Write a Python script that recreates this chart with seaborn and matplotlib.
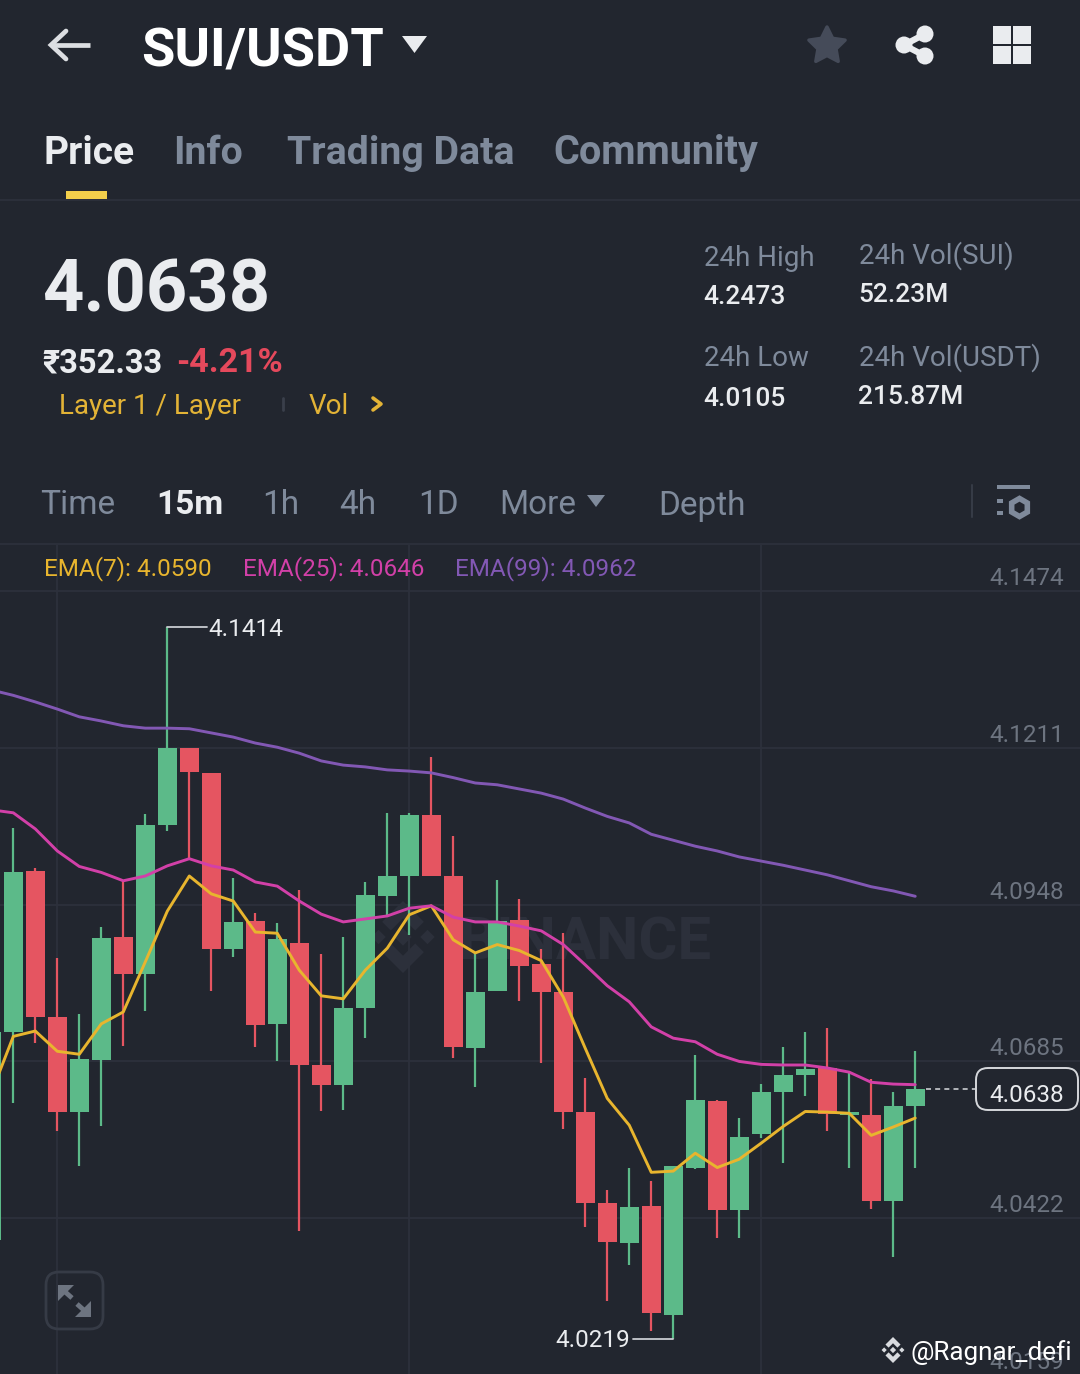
import matplotlib
matplotlib.use("Agg")
import matplotlib.pyplot as plt
import numpy as np
import seaborn as sns
from matplotlib.patches import FancyBboxPatch, Polygon, Rectangle, Circle
from matplotlib.transforms import blended_transform_factory

# candle values (first candle sits mostly off the left edge)
high_prices = [4.0734, 4.1077, 4.1010, 4.0858, 4.0764, 4.0911, 4.0990, 4.1100, 4.1414, 4.1211, 4.1169,
               4.0993, 4.0934, 4.0917, 4.0973, 4.0865, 4.0894, 4.0986, 4.1102, 4.1102, 4.1195, 4.1063,
               4.0867, 4.0990, 4.0958, 4.0874, 4.0900, 4.0657, 4.0470, 4.0507, 4.0484, 4.0509, 4.0695,
               4.0620, 4.0590, 4.0647, 4.0709, 4.0734, 4.0741, 4.0665, 4.0655, 4.0633, 4.0702]
open_prices = [4.0386, 4.0734, 4.1005, 4.0759, 4.0600, 4.0687, 4.0894, 4.0832, 4.1082, 4.1211, 4.1169,
               4.0874, 4.0921, 4.0748, 4.0884, 4.0679, 4.0645, 4.0774, 4.0963, 4.0996, 4.1098, 4.0996,
               4.0707, 4.0803, 4.0922, 4.0848, 4.0801, 4.0600, 4.0448, 4.0380, 4.0443, 4.0260, 4.0507,
               4.0618, 4.0436, 4.0563, 4.0633, 4.0662, 4.0674, 4.0595, 4.0595, 4.0451, 4.0610]
close_prices = [4.0734, 4.1003, 4.0759, 4.0600, 4.0689, 4.0892, 4.0832, 4.1082, 4.1211, 4.1170, 4.0874,
                4.0919, 4.0746, 4.0890, 4.0679, 4.0645, 4.0774, 4.0964, 4.0996, 4.1098, 4.0996, 4.0709,
                4.0801, 4.0921, 4.0845, 4.0801, 4.0600, 4.0448, 4.0382, 4.0441, 4.0263, 4.0509, 4.0620,
                4.0436, 4.0559, 4.0633, 4.0662, 4.0672, 4.0596, 4.0600, 4.0451, 4.0610, 4.0638]
low_prices = [4.0386, 4.0615, 4.0716, 4.0569, 4.0509, 4.0576, 4.0711, 4.0769, 4.1072, 4.1026, 4.0803,
              4.0860, 4.0709, 4.0685, 4.0401, 4.0601, 4.0603, 4.0724, 4.0931, 4.0897, 4.0996, 4.0690,
              4.0642, 4.0803, 4.0786, 4.0682, 4.0571, 4.0408, 4.0283, 4.0344, 4.0233, 4.0219, 4.0504,
              4.0389, 4.0389, 4.0556, 4.0514, 4.0627, 4.0569, 4.0506, 4.0438, 4.0357, 4.0506]

ema7 = [4.0632, 4.0727, 4.0736, 4.0702, 4.0697, 4.0748, 4.0768, 4.0852, 4.0937, 4.0996, 4.0966,
        4.0954, 4.0902, 4.0900, 4.0838, 4.0795, 4.0790, 4.0838, 4.0875, 4.0931, 4.0946, 4.0889,
        4.0867, 4.0881, 4.0871, 4.0854, 4.0793, 4.0707, 4.0623, 4.0578, 4.0499, 4.0501, 4.0531,
        4.0507, 4.0521, 4.0548, 4.0576, 4.0601, 4.0600, 4.0598, 4.0561, 4.0575, 4.0590]
ema25 = [4.1107, 4.1102, 4.1075, 4.1038, 4.1012, 4.1002, 4.0988, 4.0996, 4.1013, 4.1025, 4.1013,
         4.1006, 4.0986, 4.0979, 4.0954, 4.0932, 4.0919, 4.0924, 4.0929, 4.0942, 4.0946, 4.0927,
         4.0919, 4.0919, 4.0912, 4.0904, 4.0881, 4.0847, 4.0812, 4.0785, 4.0743, 4.0724, 4.0718,
         4.0697, 4.0685, 4.0680, 4.0679, 4.0679, 4.0674, 4.0667, 4.0650, 4.0647, 4.0646]
ema99 = [4.1308, 4.1299, 4.1288, 4.1276, 4.1263, 4.1256, 4.1248, 4.1244, 4.1244, 4.1243, 4.1236,
         4.1229, 4.1219, 4.1212, 4.1202, 4.1189, 4.1182, 4.1179, 4.1174, 4.1172, 4.1169, 4.1161,
         4.1152, 4.1149, 4.1142, 4.1135, 4.1125, 4.1110, 4.1096, 4.1085, 4.1066, 4.1056, 4.1046,
         4.1038, 4.1028, 4.1021, 4.1014, 4.1006, 4.0998, 4.0988, 4.0978, 4.0971, 4.0962]

tick_values = [4.1474, 4.1211, 4.0948, 4.0685, 4.0422, 4.0159]
tick_labels = ["4.1474", "4.1211", "4.0948", "4.0685", "4.0422", "4.0159"]
time_grid = [3, 19, 35]
last_price = 4.0638
high_point = (8, 4.1414)
low_point = (31, 4.0219)

BG = "#22262f"
GRID = "#2d313c"
GREEN = "#5cba89"
RED = "#e55561"
YELLOW = "#e8b52e"
PINK = "#d240a8"
PURPLE = "#8258b4"
LIGHT = "#eaecef"
MUTED = "#7f8a9b"
AXIS_TEXT = "#6d7480"
FONT = ["Roboto", "Noto Sans", "DejaVu Sans"]

sns.set_theme(style="dark")
plt.rcParams["font.family"] = FONT

W, H = 1080, 1374
CHART_TOP = 545
fig = plt.figure(figsize=(W / 100, H / 100), dpi=100, facecolor=BG)


def pixel_axes(zorder):
    a = fig.add_axes([0, 0, 1, 1], zorder=zorder, facecolor="none")
    a.set_xlim(0, W)
    a.set_ylim(H, 0)
    a.axis("off")
    return a


def label(a, x, y, s, size, color=LIGHT, weight="normal", ha="left"):
    a.text(x, y, s, fontsize=size, color=color, fontweight=weight, ha=ha, va="center_baseline", family=FONT)


def binance_logo(a, cx, cy, r, color):
    diamonds = [(0, 0, 0.24), (-0.68, 0, 0.2), (0.68, 0, 0.2)]
    for dx, dy, d in diamonds:
        x, y = cx + dx * r, cy + dy * r
        a.add_patch(Polygon([(x - d * r, y), (x, y - d * r), (x + d * r, y), (x, y + d * r)], color=color, lw=0))
    for s in (-1, 1):
        chevron = [(0, 1), (0.58, 0.42), (0.34, 0.18), (0, 0.52), (-0.34, 0.18), (-0.58, 0.42)]
        a.add_patch(Polygon([(cx + px * r, cy + s * py * r) for px, py in chevron], color=color, lw=0))


def star_icon(a, cx, cy, r, color):
    angles = np.deg2rad(np.arange(10) * 36 - 90)
    radii = np.where(np.arange(10) % 2 == 0, r, r * 0.5)
    pts = np.column_stack([cx + radii * np.cos(angles), cy + radii * np.sin(angles)])
    a.add_patch(Polygon(pts, fc=color, ec=color, lw=2.5, joinstyle="round"))


back = pixel_axes(0)
ax = fig.add_axes([0, 0, 1, (H - CHART_TOP) / H], zorder=1, facecolor="none")
ui = pixel_axes(2)

# watermark sits behind the candles
binance_logo(back, 403, 937, 36, "#2c303b")
label(back, 458, 938, "BINANCE", 43, "#2c303b", "bold")

# ---- candles and moving averages
idx = np.arange(len(close_prices))
opens, closes = np.array(open_prices), np.array(close_prices)
colors = [GREEN if c >= o else RED for o, c in zip(opens, closes)]
ax.vlines(idx, low_prices, high_prices, colors=colors, lw=1.6, zorder=3)
ax.bar(idx, np.abs(closes - opens), bottom=np.minimum(opens, closes), width=0.88, color=colors, lw=0, zorder=3)

sns.lineplot(x=idx, y=ema7, color=YELLOW, lw=2.1, ax=ax, zorder=4, errorbar=None)
sns.lineplot(x=idx, y=ema25, color=PINK, lw=2.1, ax=ax, zorder=4, errorbar=None)
sns.lineplot(x=idx, y=ema99, color=PURPLE, lw=2.1, ax=ax, zorder=4, errorbar=None)

ax.set_xticks(time_grid)
ax.set_yticks(tick_values)
ax.set_xticklabels([])
ax.set_yticklabels([])
ax.set_xlim(0.395, 49.49)
ax.set_ylim(4.01607, 4.15512)
ax.grid(True, color=GRID, lw=1.3)
ax.set_axisbelow(True)
ax.set_xlabel("")
ax.set_ylabel("")
ax.tick_params(length=0)
sns.despine(ax=ax, left=True, bottom=True)

right_edge = blended_transform_factory(ax.transAxes, ax.transData)
for value, text in zip(tick_values, tick_labels):
    ax.text(0.9855, value + 0.00017, text, transform=right_edge, ha="right", va="bottom", fontsize=17.5,
            color=AXIS_TEXT, clip_on=False, zorder=5)

# high / low callouts and the last price tag
ax.plot([high_point[0], high_point[0] + 1.82], [high_point[1], high_point[1]], color="#c9ccd1", lw=1.3, zorder=5)
ax.text(high_point[0] + 1.88, high_point[1], "4.1414", fontsize=17.5, color=LIGHT, va="center_baseline", zorder=5)
ax.plot([low_point[0] - 1.82, low_point[0]], [low_point[1], low_point[1]], color="#c9ccd1", lw=1.3, zorder=5)
ax.text(low_point[0] - 1.95, low_point[1] + 0.00017, "4.0219", fontsize=17.5, color=LIGHT, va="center_baseline", ha="right", zorder=5)
ax.plot([42.5, 44.8], [last_price, last_price], color="#c9ccd1", lw=1.2, ls=(0, (3, 2.5)), zorder=5)

ui.add_patch(FancyBboxPatch((976, 1068), 102, 42, boxstyle="round,pad=0,rounding_size=12", fc=BG, ec="#d5d7db", lw=1.4))
label(ui, 1027, 1093, "4.0638", 17.5, LIGHT, ha="center")

# ---- header
ui.plot([52, 90], [45, 45], color="#dcdee2", lw=3.4, solid_capstyle="butt")
ui.plot([66, 51, 66], [31, 45, 59], color="#dcdee2", lw=3.4, solid_joinstyle="miter")
label(ui, 141, 46, "SUI/USDT", 39, "white", "bold")
ui.add_patch(Polygon([(402, 36), (427, 36), (414.5, 53)], color=LIGHT, lw=0))
star_icon(ui, 827, 46, 19, "#454b59")
for (x1, y1) in [(925, 34), (925, 56)]:
    ui.plot([904, x1], [45, y1], color=LIGHT, lw=4.5)
    ui.add_patch(Circle((x1, y1), 8.5, color=LIGHT, lw=0))
ui.add_patch(Circle((904, 45), 8.5, color=LIGHT, lw=0))
for x, y in [(993, 26), (1013, 26), (993, 46), (1013, 46)]:
    ui.add_patch(Rectangle((x, y), 17.5, 17.5, color=LIGHT, lw=0))

# tabs
label(ui, 43, 149, "Price", 28, LIGHT, "bold")
label(ui, 173, 149, "Info", 28.3, MUTED, "bold")
label(ui, 287, 149, "Trading Data", 28.3, MUTED, "bold")
label(ui, 553, 149, "Community", 28.5, MUTED, "bold")
ui.add_patch(Rectangle((66, 191), 41, 8, color="#f3cf4b", lw=0))
ui.plot([0, W], [200, 200], color=GRID, lw=1.3)

# price block
label(ui, 42, 285, "4.0638", 52, LIGHT, "bold")
label(ui, 42, 360, "₹352.33", 23.5, LIGHT, "bold")
label(ui, 176, 360, "-4.21%", 24.5, "#e5495c", "bold")
label(ui, 59, 404, "Layer 1 / Layer", 20, "#e3b336")
ui.plot([283, 283], [398, 410], color="#3a3f4b", lw=2)
label(ui, 309, 404, "Vol", 20, "#e3b336")
ui.plot([373, 381, 373], [398, 404, 410], color="#e3b336", lw=2.6)

for x, y, s, col, w, size in [(704, 255, "24h High", MUTED, "normal", 20), (703, 295, "4.2473", LIGHT, "medium", 19),
                              (704, 356, "24h Low", MUTED, "normal", 20), (703, 397, "4.0105", LIGHT, "medium", 19),
                              (859, 252, "24h Vol(SUI)", MUTED, "normal", 20), (858, 292, "52.23M", LIGHT, "medium", 19),
                              (859, 354, "24h Vol(USDT)", MUTED, "normal", 20), (858, 394, "215.87M", LIGHT, "medium", 19)]:
    label(ui, x, y, s, size, col, w)

# timeframe row
for x, s in [(40, "Time"), (262, "1h"), (339, "4h"), (418, "1D"), (499, "More"), (658, "Depth")]:
    label(ui, x, 502, s, 24, MUTED)
label(ui, 156, 502, "15m", 24, LIGHT, "bold")
ui.add_patch(Polygon([(587, 495), (605, 495), (596, 507)], color=MUTED, lw=0))
ui.plot([972, 972], [485, 517], color="#363b46", lw=1.5)
ui.add_patch(Rectangle((997, 485), 33, 4, color=MUTED, lw=0))
ui.add_patch(Rectangle((997, 499), 6, 4, color=MUTED, lw=0))
ui.add_patch(Rectangle((997, 511), 6, 4, color=MUTED, lw=0))
ui.plot([1019], [507], marker="h", ms=13, mfc="none", mec=MUTED, mew=4)
ui.plot([0, W], [544, 544], color=GRID, lw=1.3)

# indicator legend
label(ui, 44, 566, "EMA(7): 4.0590", 17.5, YELLOW)
label(ui, 243, 566, "EMA(25): 4.0646", 17.5, PINK)
label(ui, 455, 566, "EMA(99): 4.0962", 17.5, PURPLE)

# expand button
ui.add_patch(FancyBboxPatch((46, 1272), 57, 57, boxstyle="round,pad=0,rounding_size=13", fc="none", ec="#363b46", lw=2))
ui.add_patch(Polygon([(58, 1285), (74, 1285), (58, 1301)], color=AXIS_TEXT, lw=0))
ui.add_patch(Polygon([(91, 1317), (75, 1317), (91, 1301)], color=AXIS_TEXT, lw=0))
ui.plot([63, 72], [1290, 1298], color=AXIS_TEXT, lw=3.5, solid_capstyle="butt")
ui.plot([77, 86], [1304, 1312], color=AXIS_TEXT, lw=3.5, solid_capstyle="butt")

# author mark
binance_logo(ui, 893, 1350, 13, "#d9dbdf")
label(ui, 910, 1350, "@Ragnar_defi", 18.8, "white")

fig.savefig("out.png", dpi=100, facecolor=BG)
